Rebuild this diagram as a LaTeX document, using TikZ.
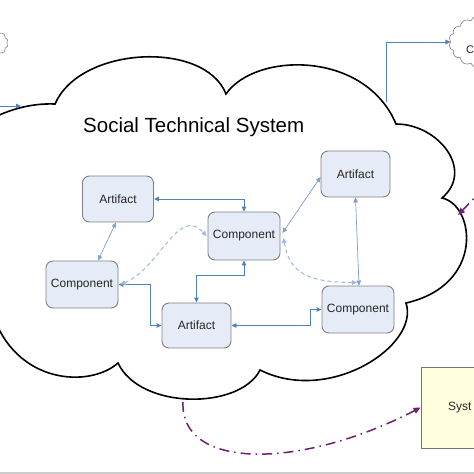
\documentclass[tikz,border=0pt]{standalone}
\usepackage{fontspec}
\setmainfont{Liberation Sans}
\usetikzlibrary{arrows.meta,shapes.symbols,calc}
\definecolor{boxfill}{RGB}{230,236,247}
\definecolor{boxline}{RGB}{128,128,128}
\definecolor{conn}{RGB}{79,129,189}
\definecolor{connlight}{RGB}{127,158,208}
\definecolor{dashc}{RGB}{157,185,224}
\definecolor{purp}{RGB}{112,32,112}
\definecolor{sysfill}{RGB}{255,255,221}
\begin{document}
\begin{tikzpicture}[x=1pt,y=-1pt,
  >={Triangle[length=5pt,width=4.5pt]},
  box/.style={draw=boxline, fill=boxfill, rounded corners=7pt, line width=0.9pt,
    minimum width=71pt, minimum height=46pt, inner sep=0pt,
    font=\fontsize{12}{14}\selectfont, text=black!85},
  link/.style={draw=conn, line width=0.9pt, <->},
  diag/.style={draw=connlight, line width=0.7pt, <->},
  dlink/.style={draw=dashc, dash pattern=on 4pt off 3pt, line width=1pt, <->},
  purpline/.style={draw=purp, line width=1.5pt, dash pattern=on 10pt off 5pt on 1.5pt off 5pt,
    -{Triangle[length=7pt,width=6pt]}},
  smallcloud/.style={cloud, cloud puffs=18, cloud puff arc=120, cloud ignores aspect,
    draw=black!55, line width=0.5pt, inner sep=0pt},
  sysbox/.style={draw=black!55, fill=sysfill, line width=0.8pt, minimum width=96pt,
    minimum height=81pt},
  cloudline/.style={draw=black, line width=1.6pt}
]
\useasboundingbox (0,0) rectangle (474,474);
\clip (0,0) rectangle (474,474);
\fill[white] (0,0) rectangle (474,474);
\fill[gray!40] (0,472) rectangle (474,476);

% main cloud
\draw[cloudline] (-40,140) -- (-20,125) .. controls (5,110) and (30,103) .. (55,104)
  .. controls (80,46) and (205,40) .. (226,94)
  .. controls (255,52) and (365,50) .. (396,124)
  .. controls (438,124) and (475,170) .. (442,198)
  .. controls (475,205) and (485,285) .. (406,303)
  .. controls (420,345) and (330,405) .. (260,370)
  .. controls (240,410) and (140,410) .. (118,363)
  .. controls (90,388) and (15,385) .. (-8,312) -- (-40,300);

\node[anchor=base west, font=\fontsize{20.5}{24}\selectfont, inner sep=0pt] (title) at (83,132) {Social Technical System};

% small clouds
\node[smallcloud, minimum width=62pt, minimum height=36pt] (sc1) at (-23,43) {};
\node[smallcloud, minimum width=84pt, minimum height=56pt] (sc2) at (491,42) {};
\node[anchor=west, font=\fontsize{11}{13}\selectfont, inner sep=0pt, text=black!85] (sc2t) at (466,50) {C};

% nodes
\node[box] (a1) at (118,199) {Artifact};
\node[box, minimum width=72pt, minimum height=47pt] (c1) at (82,284.5) {Component};
\node[box, minimum width=72pt, minimum height=48pt] (c2) at (244,236) {Component};
\node[box, minimum width=69pt, minimum height=45pt] (a2) at (196.5,325.5) {Artifact};
\node[box, minimum width=69pt, minimum height=46pt] (a3) at (355.5,174) {Artifact};
\node[box, minimum width=72pt, minimum height=47pt] (c3) at (358,309.5) {Component};
\node[sysbox] (sys) at (469,407.5) {};
\node[anchor=west, font=\fontsize{12}{14}\selectfont, inner sep=0pt, text=black!85] (syst) at (448,407.5) {Syst};

% connectors
\draw[link] (a1.east) -| (c2.north);
\draw[diag] ($(a1.south)+(-2,0)$) -- ($(c1.north)+(16,0)$);
\draw[link] (c1.east) -- ++(32,0) |- (a2.west);
\draw[link] (c2.south) -- ++(0,15) -| (a2.north);
\draw[link] (a2.east) -| ($(c3.west)+(-11,0)$) -- (c3.west);
\draw[diag] ($(c2.east)+(2,-3)$) -- ($(a3.west)+(0,3)$);
\draw[diag] (a3.south) -- ($(c3.north)+(1,0)$);
\draw[dlink] ($(c1.east)+(2,0)$) .. controls (160,268) and (178,205) .. ($(c2.west)+(-1,0)$);
\draw[dlink] ($(c3.north)+(-1,-3)$) .. controls (310,282) and (290,275) .. ($(c2.east)+(3,2)$);

% outside connectors
\coordinate (inL0) at (-2,106);
\coordinate (inL1) at (21,106);
\draw[draw=conn, line width=0.9pt, ->] (inL0) -- (inL1);
\coordinate (outT0) at (386,102);
\draw[draw=conn, line width=0.9pt, ->] (outT0) |- (sc2.west);
\coordinate (pR0) at (484,188);
\coordinate (pR1) at (458,215);
\draw[purpline] (pR0) -- (pR1);
\coordinate (pB) at (183,402);
\draw[purpline] (pB) .. controls (180,470) and (300,470) .. (sys.west);
\end{tikzpicture}
\end{document}
